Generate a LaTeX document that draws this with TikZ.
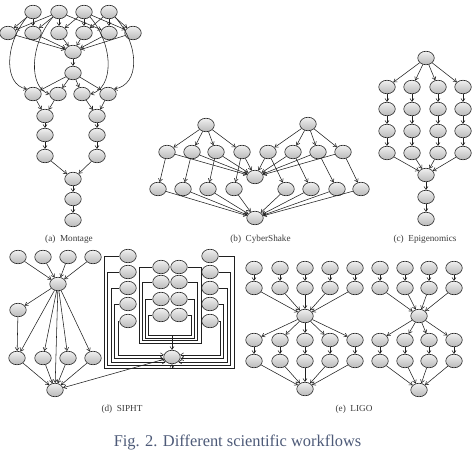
\documentclass[tikz,border=0pt]{standalone}
\usepackage{fontspec}
\setmainfont{Liberation Serif}
\usetikzlibrary{shapes.geometric,arrows.meta,calc}
\definecolor{capblue}{HTML}{4D5A78}
\definecolor{subgray}{HTML}{3C3C3C}
\tikzset{
  nd/.style={ellipse, minimum width=16.5pt, minimum height=13.5pt, inner sep=0pt,
    draw=gray!30!black, line width=0.6pt, top color=gray!12, bottom color=gray!55},
  ed/.style={draw=gray!25!black, line width=0.55pt, -{Straight Barb[length=3pt,width=4pt]}},
  ln/.style={draw=gray!25!black, line width=0.55pt},
  subcap/.style={text=subgray, font=\fontsize{9.2}{11}\selectfont, inner sep=0pt},
  maincap/.style={text=capblue, font=\fontsize{16.4}{19}\selectfont, inner sep=0pt}
}
\begin{document}
\begin{tikzpicture}[x=1pt,y=-1pt]
\useasboundingbox[fill=white] (0,0) rectangle (474,451);

% ---------------- (a) Montage ----------------
\foreach \n/\x in {1/33,2/59,3/84,4/109} \node[nd] (mT\n) at (\x,12) {};
\foreach \n/\x in {a/8,b/33,c/59,d/84,e/109,f/133} \node[nd] (mR\n) at (\x,33) {};
\node[nd] (mH1) at (73,52) {};
\node[nd] (mH2) at (73,73) {};
\foreach \n/\x in {a/33,b/58,c/82,d/108} \node[nd] (mF\n) at (\x,94) {};
\node[nd] (mGa) at (45,116) {};
\node[nd] (mGb) at (97,116) {};
\node[nd] (mKa) at (45,135) {};
\node[nd] (mKb) at (97,135) {};
\node[nd] (mLa) at (45,156) {};
\node[nd] (mLb) at (97,156) {};
\node[nd] (mM1) at (73,179) {};
\node[nd] (mM2) at (73,199) {};
\node[nd] (mM3) at (73,220) {};
\foreach \a/\b in {mT1/mRa,mT1/mRb,mT2/mRa,mT2/mRb,mT2/mRc,mT2/mRe,mT3/mRc,mT3/mRd,mT3/mRf,mT4/mRd,mT4/mRe,mT4/mRf}
  \draw[ed] (\a) -- (\b);
\foreach \a in {a,b,c,d,e,f} \draw[ed] (mR\a) -- (mH1);
\draw[ed] (mH1) -- (mH2);
\foreach \a in {a,b,c,d} \draw[ed] (mH2) -- (mF\a);
\draw[ed] (mT1.south west) .. controls (4,45) and (4,85) .. (mFa.north west);
\draw[ed] (mT2.south west) .. controls (29,45) and (29,88) .. (mFb.west);
\draw[ed] (mT3.south east) .. controls (114,45) and (114,88) .. (mFc.east);
\draw[ed] (mT4.south east) .. controls (140,45) and (140,85) .. (mFd.north east);
\draw[ed] (mFa) -- (mGa); \draw[ed] (mFb) -- (mGa);
\draw[ed] (mFc) -- (mGb); \draw[ed] (mFd) -- (mGb);
\draw[ed] (mGa) -- (mKa); \draw[ed] (mKa) -- (mLa);
\draw[ed] (mGb) -- (mKb); \draw[ed] (mKb) -- (mLb);
\draw[ed] (mLa) -- (mM1); \draw[ed] (mLb) -- (mM1);
\draw[ed] (mM1) -- (mM2); \draw[ed] (mM2) -- (mM3);
\node[subcap] (capa) at (69,239) {(a)\ \ Montage};

% ---------------- (b) CyberShake ----------------
\node[nd] (cT1) at (206,125) {};
\node[nd] (cT2) at (308,124) {};
\foreach \n/\x in {1/167,2/192,3/216,4/242,5/268,6/293,7/318,8/343} \node[nd] (cA\n) at (\x,152) {};
\node[nd] (cM) at (255,177) {};
\foreach \n/\x in {1/158,2/183,3/208,4/234,5/286,6/311,7/337,8/361} \node[nd] (cB\n) at (\x,189) {};
\node[nd] (cZ) at (255,218) {};
\foreach \n in {1,2,3,4} \draw[ed] (cT1) -- (cA\n);
\foreach \n in {5,6,7,8} \draw[ed] (cT2) -- (cA\n);
\foreach \n in {1,...,8} {
  \draw[ed] (cA\n) -- (cB\n);
  \draw[ed] (cA\n) -- (cM);
  \draw[ed] (cB\n) -- (cZ);
}
\node[subcap] (capb) at (260.5,239) {(b)\ \ CyberShake};

% ---------------- (c) Epigenomics ----------------
\node[nd] (eT) at (426,58) {};
\foreach \i/\x in {1/387,2/412,3/438,4/463}
  \foreach \j/\y in {1/87,2/109,3/131,4/153}
    \node[nd] (e\i\j) at (\x,\y) {};
\node[nd] (eH) at (426,175) {};
\node[nd] (eH2) at (426,197) {};
\node[nd] (eH3) at (426,219) {};
\foreach \i in {1,2,3,4} {
  \draw[ed] (eT) -- (e\i1);
  \draw[ed] (e\i1) -- (e\i2);
  \draw[ed] (e\i2) -- (e\i3);
  \draw[ed] (e\i3) -- (e\i4);
  \draw[ed] (e\i4) -- (eH);
}
\draw[ed] (eH) -- (eH2);
\draw[ed] (eH2) -- (eH3);
\node[subcap] (capc) at (425,239) {(c)\ \ Epigenomics};

% ---------------- (d) SIPHT ----------------
\foreach \n/\x in {1/18,2/43,3/68,4/93} \node[nd] (sT\n) at (\x,257) {};
\node[nd] (sH) at (58,284) {};
\node[nd] (sL) at (18,310) {};
\foreach \n/\x in {1/17,2/43,3/68,4/93} \node[nd] (sR\n) at (\x,358) {};
\node[nd] (sB) at (55,390) {};
\foreach \n in {1,2,3,4} {
  \draw[ed] (sT\n) -- (sH);
  \draw[ed] (sH) -- (sR\n);
  \draw[ed] (sR\n) -- (sB);
}
\draw[ed] (sH) -- (sL);
\draw[ed] (sL) -- (sR1);
\draw[ed] (sH) -- (sB);

% right block
\foreach \n/\y in {1/256,2/272,3/288,4/304,5/321} {
  \node[nd] (bL\n) at (128,\y) {};
  \node[nd] (bR\n) at (210,\y) {};
}
\foreach \n/\y in {1/267,2/282,3/299,4/315} {
  \node[nd] (cL\n) at (161,\y) {};
  \node[nd] (cR\n) at (179,\y) {};
}
\node[nd] (bH) at (172,357) {};
% outer U-shapes passing under the hub
\draw[ln] (bL1.west) -- (104,256) -- (104,368) -- (234,368) -- (234,256) -- (bR1.east);
\draw[ln] (bL2.west) -- (107.5,272) -- (107.5,365) -- (230.5,365) -- (230.5,272) -- (bR2.east);
\coordinate (bj) at (172,368);
\draw[ed] (bj) -- (bH.south);
% lines ending at the hub
\coordinate (xl3) at (111,0);
\coordinate (xl4) at (114.5,0);
\coordinate (xl5) at (118,0);
\coordinate (xr3) at (227,0);
\coordinate (xr4) at (223.5,0);
\coordinate (xr5) at (220,0);
\draw[ed] (bL3.west) -| (xl3 |- bH.218) -- (bH.218);
\draw[ed] (bL4.west) -| (xl4 |- bH.192) -- (bH.192);
\draw[ed] (bL5.west) -| (xl5 |- bH.165) -- (bH.165);
\draw[ed] (bR3.east) -| (xr3 |- bH.-38) -- (bH.-38);
\draw[ed] (bR4.east) -| (xr4 |- bH.-12) -- (bH.-12);
\draw[ed] (bR5.east) -| (xr5 |- bH.15) -- (bH.15);
% central U-shapes
\draw[ln] (cL1.west) -- (139,267) -- (139,343.5) -- (201,343.5) -- (201,267) -- (cR1.east);
\draw[ln] (cL2.west) -- (142.5,282) -- (142.5,340.7) -- (197.5,340.7) -- (197.5,282) -- (cR2.east);
\draw[ln] (cL3.west) -- (145.7,299) -- (145.7,338) -- (194.3,338) -- (194.3,299) -- (cR3.east);
\draw[ln] (cL4.west) -- (148.5,315) -- (148.5,335.3) -- (191,335.3) -- (191,315) -- (cR4.east);
\coordinate (cj) at (172,335.3);
\draw[ed] (cj) -- (bH.north);
\draw[ed] (bH) -- (sB);
\node[subcap] (capd) at (122,409) {(d)\ \ SIPHT};

% ---------------- (e) LIGO ----------------
\foreach \n/\x in {1/254,2/280,3/305,4/330,5/355} {
  \node[nd] (lA\n) at (\x,268) {};
  \node[nd] (lB\n) at (\x,288) {};
  \node[nd] (lC\n) at (\x,340) {};
  \node[nd] (lD\n) at (\x,361) {};
}
\node[nd] (lH) at (305,316) {};
\node[nd] (lE) at (305,389) {};
\foreach \n in {1,...,5} {
  \draw[ed] (lA\n) -- (lB\n);
  \draw[ed] (lB\n) -- (lH);
  \draw[ed] (lH) -- (lC\n);
  \draw[ed] (lC\n) -- (lD\n);
  \draw[ed] (lD\n) -- (lE);
}
\foreach \n/\x in {1/380,2/405,3/429,4/454} {
  \node[nd] (rA\n) at (\x,268) {};
  \node[nd] (rB\n) at (\x,288) {};
  \node[nd] (rC\n) at (\x,340) {};
  \node[nd] (rD\n) at (\x,361) {};
}
\node[nd] (rH) at (419,316) {};
\node[nd] (rE) at (419,390) {};
\foreach \n in {1,...,4} {
  \draw[ed] (rA\n) -- (rB\n);
  \draw[ed] (rB\n) -- (rH);
  \draw[ed] (rH) -- (rC\n);
  \draw[ed] (rC\n) -- (rD\n);
  \draw[ed] (rD\n) -- (rE);
}
\node[subcap] (cape) at (354,409) {(e)\ \ LIGO};

% ---------------- caption ----------------
\node[maincap] (fig) at (237.5,442) {Fig. 2. Different scientific workflows};
\end{tikzpicture}
\end{document}
